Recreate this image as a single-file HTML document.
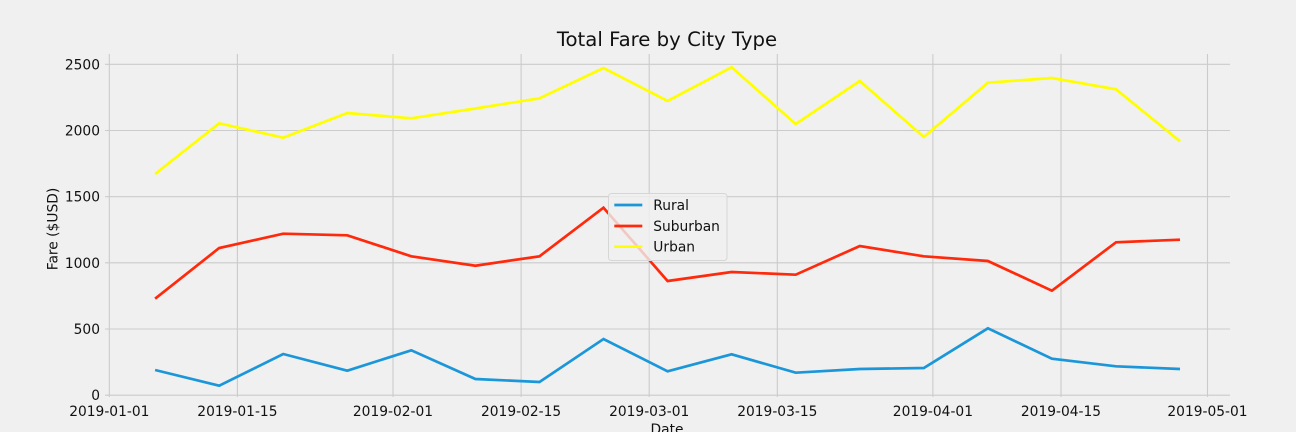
<!DOCTYPE html>
<html>
<head>
<meta charset="utf-8">
<style>
  html, body { margin: 0; padding: 0; background: #f0f0f0; }
  svg { display: block; }
  text { font-family: "DejaVu Sans", "Liberation Sans", sans-serif; fill: #111; }
</style>
</head>
<body>
<svg width="1296" height="432" viewBox="0 0 1296 432" xmlns="http://www.w3.org/2000/svg">
  <rect x="0" y="0" width="1296" height="432" fill="#f0f0f0"/>

  <!-- horizontal gridlines -->
  <g stroke="#cbcbcb" stroke-width="1.1">
    <line x1="105" y1="64.3" x2="1230" y2="64.3"/>
    <line x1="105" y1="130.5" x2="1230" y2="130.5"/>
    <line x1="105" y1="196.7" x2="1230" y2="196.7"/>
    <line x1="105" y1="262.8" x2="1230" y2="262.8"/>
    <line x1="105" y1="329" x2="1230" y2="329"/>
    <line x1="105" y1="395.2" x2="1230" y2="395.2"/>
  </g>
  <!-- vertical gridlines -->
  <g stroke="#cbcbcb" stroke-width="1.1">
    <line x1="109.3" y1="54" x2="109.3" y2="397"/>
    <line x1="237.4" y1="54" x2="237.4" y2="397"/>
    <line x1="393.0" y1="54" x2="393.0" y2="397"/>
    <line x1="521.1" y1="54" x2="521.1" y2="397"/>
    <line x1="649.2" y1="54" x2="649.2" y2="397"/>
    <line x1="777.3" y1="54" x2="777.3" y2="397"/>
    <line x1="932.9" y1="54" x2="932.9" y2="397"/>
    <line x1="1061.0" y1="54" x2="1061.0" y2="397"/>
    <line x1="1207.5" y1="54" x2="1207.5" y2="397"/>
  </g>

  <!-- y tick labels -->
  <g font-size="13.8" text-anchor="end">
    <text x="100" y="69.3">2500</text>
    <text x="100" y="135.5">2000</text>
    <text x="100" y="201.7">1500</text>
    <text x="100" y="267.8">1000</text>
    <text x="100" y="334">500</text>
    <text x="100" y="400.2">0</text>
  </g>
  <!-- x tick labels -->
  <g font-size="13.8" text-anchor="middle">
    <text x="109.3" y="416">2019-01-01</text>
    <text x="237.4" y="416">2019-01-15</text>
    <text x="393.0" y="416">2019-02-01</text>
    <text x="521.1" y="416">2019-02-15</text>
    <text x="649.2" y="416">2019-03-01</text>
    <text x="777.3" y="416">2019-03-15</text>
    <text x="932.9" y="416">2019-04-01</text>
    <text x="1061.0" y="416">2019-04-15</text>
    <text x="1207.5" y="416">2019-05-01</text>
  </g>

  <!-- axis labels -->
  <text x="667" y="434" font-size="13.8" text-anchor="middle">Date</text>
  <text x="0" y="0" font-size="13.8" text-anchor="middle" transform="translate(57.5,229) rotate(-90)">Fare ($USD)</text>

  <!-- title -->
  <text x="667" y="46" font-size="19.7" text-anchor="middle">Total Fare by City Type</text>

  <!-- series -->
  <g fill="none" stroke-width="2.7" stroke-linejoin="miter" stroke-linecap="butt">
    <polyline stroke="#1b97d9" points="155.1,370 219.2,385.7 283.2,354 347.3,370.7 411.3,350.3 475.4,379 539.5,382 603.5,339 667.6,371.3 731.6,354.3 795.7,372.7 859.8,369 923.8,368 987.9,328.3 1051.9,358.7 1116,366.3 1180,369"/>
    <polyline stroke="#ff2a0c" points="155.1,298.7 219.2,248 283.2,233.7 347.3,235.3 411.3,256.3 475.4,265.7 539.5,256.3 603.5,207.7 667.6,281 731.6,272 795.7,274.7 859.8,246 923.8,256.3 987.9,261 1051.9,290.7 1116,242.3 1180,239.7"/>
    <polyline stroke="#ffff00" points="155.1,174 219.2,123.3 283.2,137.7 347.3,113 411.3,118.3 475.4,108.5 539.5,98.3 603.5,68 667.6,101 731.6,67.3 795.7,124 859.8,81 923.8,137 987.9,82.7 1051.9,78 1116,89.3 1180,141.3"/>
  </g>

  <!-- legend -->
  <rect x="608.5" y="193.5" width="118.5" height="67" rx="3" ry="3" fill="#f0f0f0" fill-opacity="0.8" stroke="#d6d6d6" stroke-width="1"/>
  <g stroke-width="2.7">
    <line x1="614.3" y1="205" x2="642.3" y2="205" stroke="#1b97d9"/>
    <line x1="614.3" y1="226" x2="642.3" y2="226" stroke="#ff2a0c"/>
    <line x1="614.3" y1="246.7" x2="642.3" y2="246.7" stroke="#ffff00"/>
  </g>
  <g font-size="13.8">
    <text x="653.3" y="210">Rural</text>
    <text x="653.3" y="231">Suburban</text>
    <text x="653.3" y="251.7">Urban</text>
  </g>
</svg>
</body>
</html>
